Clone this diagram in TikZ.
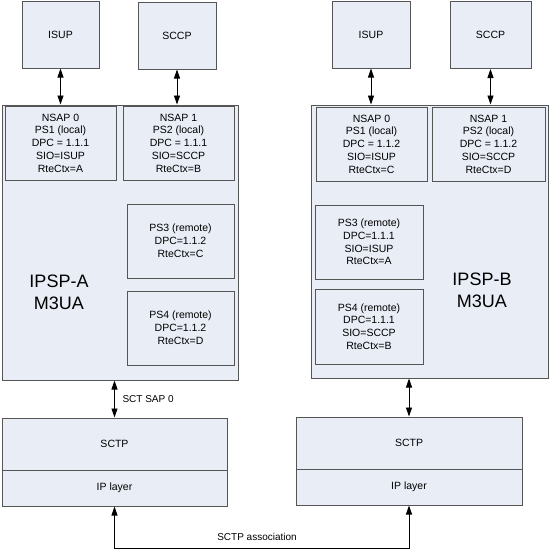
\documentclass[tikz,border=0pt]{standalone}
\usepackage{fontspec}
\setmainfont{Liberation Sans}
\usepackage{xcolor}
\usepackage{tikz}
\usetikzlibrary{arrows.meta}

\definecolor{boxfill}{HTML}{E8EDF6}
\definecolor{boxline}{HTML}{555555}

\begin{document}
\begin{tikzpicture}[
			x=1pt, y=-1pt,
			box/.style={draw=boxline, fill=boxfill, line width=1pt, inner sep=0pt,
				align=center, font=\fontsize{10.5}{12.8}\selectfont},
			big/.style={font=\fontsize{18}{22}\selectfont, align=center},
			lbl/.style={font=\fontsize{10}{12}\selectfont},
			arr/.style={{Triangle[length=9pt,width=6pt]}-{Triangle[length=9pt,width=6pt]}, line width=0.9pt}]
			\useasboundingbox (0,0) rectangle (549,550);
			% upper layers
			\node[box, minimum width=77pt, minimum height=67pt] (isupA) at (60.5,34.5) {ISUP};
			\node[box, minimum width=78pt, minimum height=67pt] (sccpA) at (177,35.5) {SCCP};
			\node[box, minimum width=78pt, minimum height=67pt] (isupB) at (371,34.5) {ISUP};
			\node[box, minimum width=81pt, minimum height=67pt] (sccpB) at (490.5,35) {SCCP};
			% M3UA A
			\node[box, minimum width=236pt, minimum height=275pt] (m3uaA) at (120,242.5) {};
			\node[big] (nameA) at (59,292) {IPSP-A\\M3UA};
			\node[box, minimum width=111pt, minimum height=74pt] (nsap0A) at (60.5,143)
				{NSAP 0\\PS1 (local)\\DPC = 1.1.1\\SIO=ISUP\\RteCtx=A};
			\node[box, minimum width=111pt, minimum height=74pt] (nsap1A) at (178.5,143)
				{NSAP 1\\PS2 (local)\\DPC = 1.1.1\\SIO=SCCP\\RteCtx=B};
			\node[box, minimum width=107pt, minimum height=74pt] (ps3A) at (180.5,241)
				{PS3 (remote)\\DPC=1.1.2\\RteCtx=C};
			\node[box, minimum width=107pt, minimum height=74pt] (ps4A) at (180.5,328)
				{PS4 (remote)\\DPC=1.1.2\\RteCtx=D};
			% M3UA B
			\node[box, minimum width=237pt, minimum height=273pt] (m3uaB) at (429.5,241.5) {};
			\node[big] (nameB) at (482,290) {IPSP-B\\M3UA};
			\node[box, minimum width=111pt, minimum height=74pt] (nsap0B) at (371.5,144)
				{NSAP 0\\PS1 (local)\\DPC = 1.1.2\\SIO=ISUP\\RteCtx=C};
			\node[box, minimum width=113pt, minimum height=74pt] (nsap1B) at (488.5,144)
				{NSAP 1\\PS2 (local)\\DPC = 1.1.2\\SIO=SCCP\\RteCtx=D};
			\node[box, minimum width=108pt, minimum height=74pt] (ps3B) at (369,242)
				{PS3 (remote)\\DPC=1.1.1\\SIO=ISUP\\RteCtx=A};
			\node[box, minimum width=108pt, minimum height=75pt] (ps4B) at (369,326.5)
				{PS4 (remote)\\DPC=1.1.1\\SIO=SCCP\\RteCtx=B};
			% SCTP and IP
			\node[box, minimum width=225pt, minimum height=52pt] (sctpA) at (114.5,444) {SCTP};
			\node[box, minimum width=225pt, minimum height=36pt] (ipA) at (114.5,488) {IP layer};
			\node[box, minimum width=226pt, minimum height=52pt] (sctpB) at (409,443) {SCTP};
			\node[box, minimum width=226pt, minimum height=36pt] (ipB) at (409,487) {IP layer};
			% connectors
			\draw[arr] (isupA.south) -- (isupA.south |- m3uaA.north);
			\draw[arr] (sccpA.south) -- (sccpA.south |- m3uaA.north);
			\draw[arr] (isupB.south) -- (isupB.south |- m3uaB.north);
			\draw[arr] (sccpB.south) -- (sccpB.south |- m3uaB.north);
			\draw[arr] (sctpA.north |- m3uaA.south) -- (sctpA.north);
			\draw[arr] (sctpB.north |- m3uaB.south) -- (sctpB.north);
			\node[lbl, anchor=west] (sap) at (119,399) {SCT SAP 0};
			\coordinate (assoc) at (257,548.5);
			\draw[arr] (ipA.south) |- (assoc) -| (ipB.south);
			\node[lbl] (assocl) at (257,537) {SCTP association};
		\end{tikzpicture}
\end{document}
